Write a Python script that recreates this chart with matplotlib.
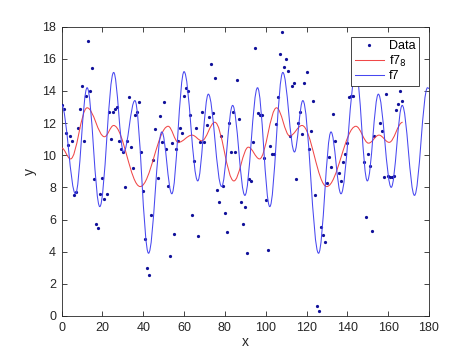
import matplotlib
matplotlib.use("Agg")
import matplotlib.pyplot as plt
from matplotlib.path import Path
from matplotlib.patches import PathPatch

plt.rcParams['font.family'] = ['Liberation Sans', 'DejaVu Sans']

# measured data points (x = sample index)
data_x = list(range(0, 135)) + list(range(136, 144)) + list(range(148, 154)) + list(range(156, 168))
data_y = [13.1, 12.9, 11.4, 10.65, 11.2, 10.9, 7.5, 7.7, 11.7, 12.9,
          14.3, 10.9, 13.7, 17.1, 14.0, 15.4, 8.5, 5.7, 5.5, 7.6,
          8.6, 7.3, 7.6, 12.7, 11.0, 12.7, 12.9, 13.0, 10.9, 10.4,
          10.2, 8.0, 10.9, 13.6, 10.5, 9.2, 12.5, 12.7, 13.3, 10.2,
          7.8, 4.8, 3.0, 2.55, 6.3, 9.7, 11.6, 8.6, 12.45, 10.85,
          13.3, 10.4, 8.1, 3.75, 10.75, 5.1, 10.4, 10.9, 11.7, 11.4,
          13.7, 14.2, 14.0, 12.5, 6.3, 9.65, 11.7, 5.0, 10.85, 12.7,
          10.85, 11.9, 12.4, 15.7, 12.6, 14.8, 7.85, 7.1, 11.2, 8.1,
          6.4, 5.25, 12.0, 10.2, 12.7, 10.2, 14.7, 12.25, 7.1, 5.7,
          6.75, 3.9, 8.5, 8.4, 10.85, 16.7, 12.6, 12.5, 12.5, 9.8,
          7.2, 4.1, 10.6, 10.1, 10.1, 11.95, 13.6, 16.3, 17.65, 15.5,
          16.0, 15.25, 11.2, 14.3, 14.5, 8.5, 12.0, 12.7, 11.3, 14.5,
          15.15, 10.4, 11.5, 13.4, 7.5, 0.62, 0.33, 5.56, 5.04, 4.63,
          8.26, 9.9, 9.25, 12.55, 10.9,
          8.9, 8.4, 9.55, 10.1, 10.75, 13.65, 13.7, 13.7,
          9.57, 6.15, 10.1, 9.34, 5.3, 11.2,
          12.0, 11.5, 8.64, 13.8, 8.7, 8.64, 8.64, 8.73, 12.8, 13.2, 14.0, 13.4]

# turning points of the fitted curves
f7_x = [0, 6.8, 12.5, 18.7, 25.5, 30.4, 35.9, 42.6, 49.1, 54.0, 60.0, 66.7,
        71.9, 78.4, 83.8, 89.8, 96.0, 102.0, 108.4, 114.1, 118.2, 125.9, 132.0,
        136.9, 144.2, 149.8, 155.2, 161.5, 166.9, 172.9, 179.3, 180]
f7_y = [13.1, 7.6, 14.2, 6.8, 15.15, 10.2, 13.4, 3.9, 11.45, 7.6, 15.2, 8.4,
        13.8, 8.05, 13.1, 7.5, 14.2, 6.8, 15.15, 10.2, 13.4, 3.9, 11.45,
        7.6, 15.25, 8.4, 13.8, 8.0, 13.1, 7.5, 14.2, 14.15]

f78_x = [0, 4.4, 12.5, 21.0, 25.5, 38.5, 52.2, 57.2, 63.9, 68.7, 75.1, 84.4,
         91.5, 97.0, 105.3, 111.8, 117.8, 129.9, 144.2, 150.4, 155.5, 160.5, 167.1]
f78_y = [10.45, 9.77, 12.95, 11.15, 11.85, 8.05, 11.8, 10.8, 11.25, 10.9, 12.05, 8.4,
         10.5, 9.77, 12.95, 11.2, 11.85, 8.05, 11.8, 10.75, 11.25, 10.8, 12.05]


def smooth_path(xs, ys, k=0.364):
    # cubic segments between turning points (flat tangents)
    verts = [(xs[0], ys[0])]
    codes = [Path.MOVETO]
    for i in range(len(xs) - 1):
        dx = xs[i + 1] - xs[i]
        verts += [(xs[i] + k * dx, ys[i]), (xs[i + 1] - k * dx, ys[i + 1]), (xs[i + 1], ys[i + 1])]
        codes += [Path.CURVE4] * 3
    return Path(verts, codes)


axcol = '0.15'
fig = plt.figure(figsize=(4.74, 3.55), dpi=100)
ax = fig.add_axes([0.13, 0.11, 0.775, 0.815])

red = '#f04848'
blue = '#4848f0'
ax.plot(data_x, data_y, '.', color='#10109a', ms=2.6, label='Data', zorder=3)
ax.add_patch(PathPatch(smooth_path(f78_x, f78_y), facecolor='none', edgecolor=red, lw=0.75, zorder=4))
ax.plot([], [], color=red, lw=0.75, label='f7$_8$')
ax.add_patch(PathPatch(smooth_path(f7_x, f7_y), facecolor='none', edgecolor=blue, lw=0.75, zorder=5))
ax.plot([], [], color=blue, lw=0.75, label='f7')

ax.set_xlim(0, 180)
ax.set_ylim(0, 18)
ax.set_xticks(range(0, 181, 20))
ax.set_yticks(range(0, 19, 2))
ax.tick_params(direction='in', top=True, right=True, length=3.5, width=0.6,
               colors=axcol, labelsize=9, pad=4)
for s in ax.spines.values():
    s.set_linewidth(0.6)
    s.set_color(axcol)
ax.set_xlabel('x', fontsize=10, color=axcol, labelpad=1)
ax.set_ylabel('y', fontsize=10, color=axcol, labelpad=4)

leg = ax.legend(loc='upper right', fontsize=9, fancybox=False, framealpha=1,
                edgecolor=axcol, handlelength=2.3, handletextpad=0.4,
                labelspacing=0.1, borderpad=0.3, borderaxespad=0.8, markerscale=1.0)
leg.get_frame().set_linewidth(0.6)

fig.savefig('out.png', dpi=100)
